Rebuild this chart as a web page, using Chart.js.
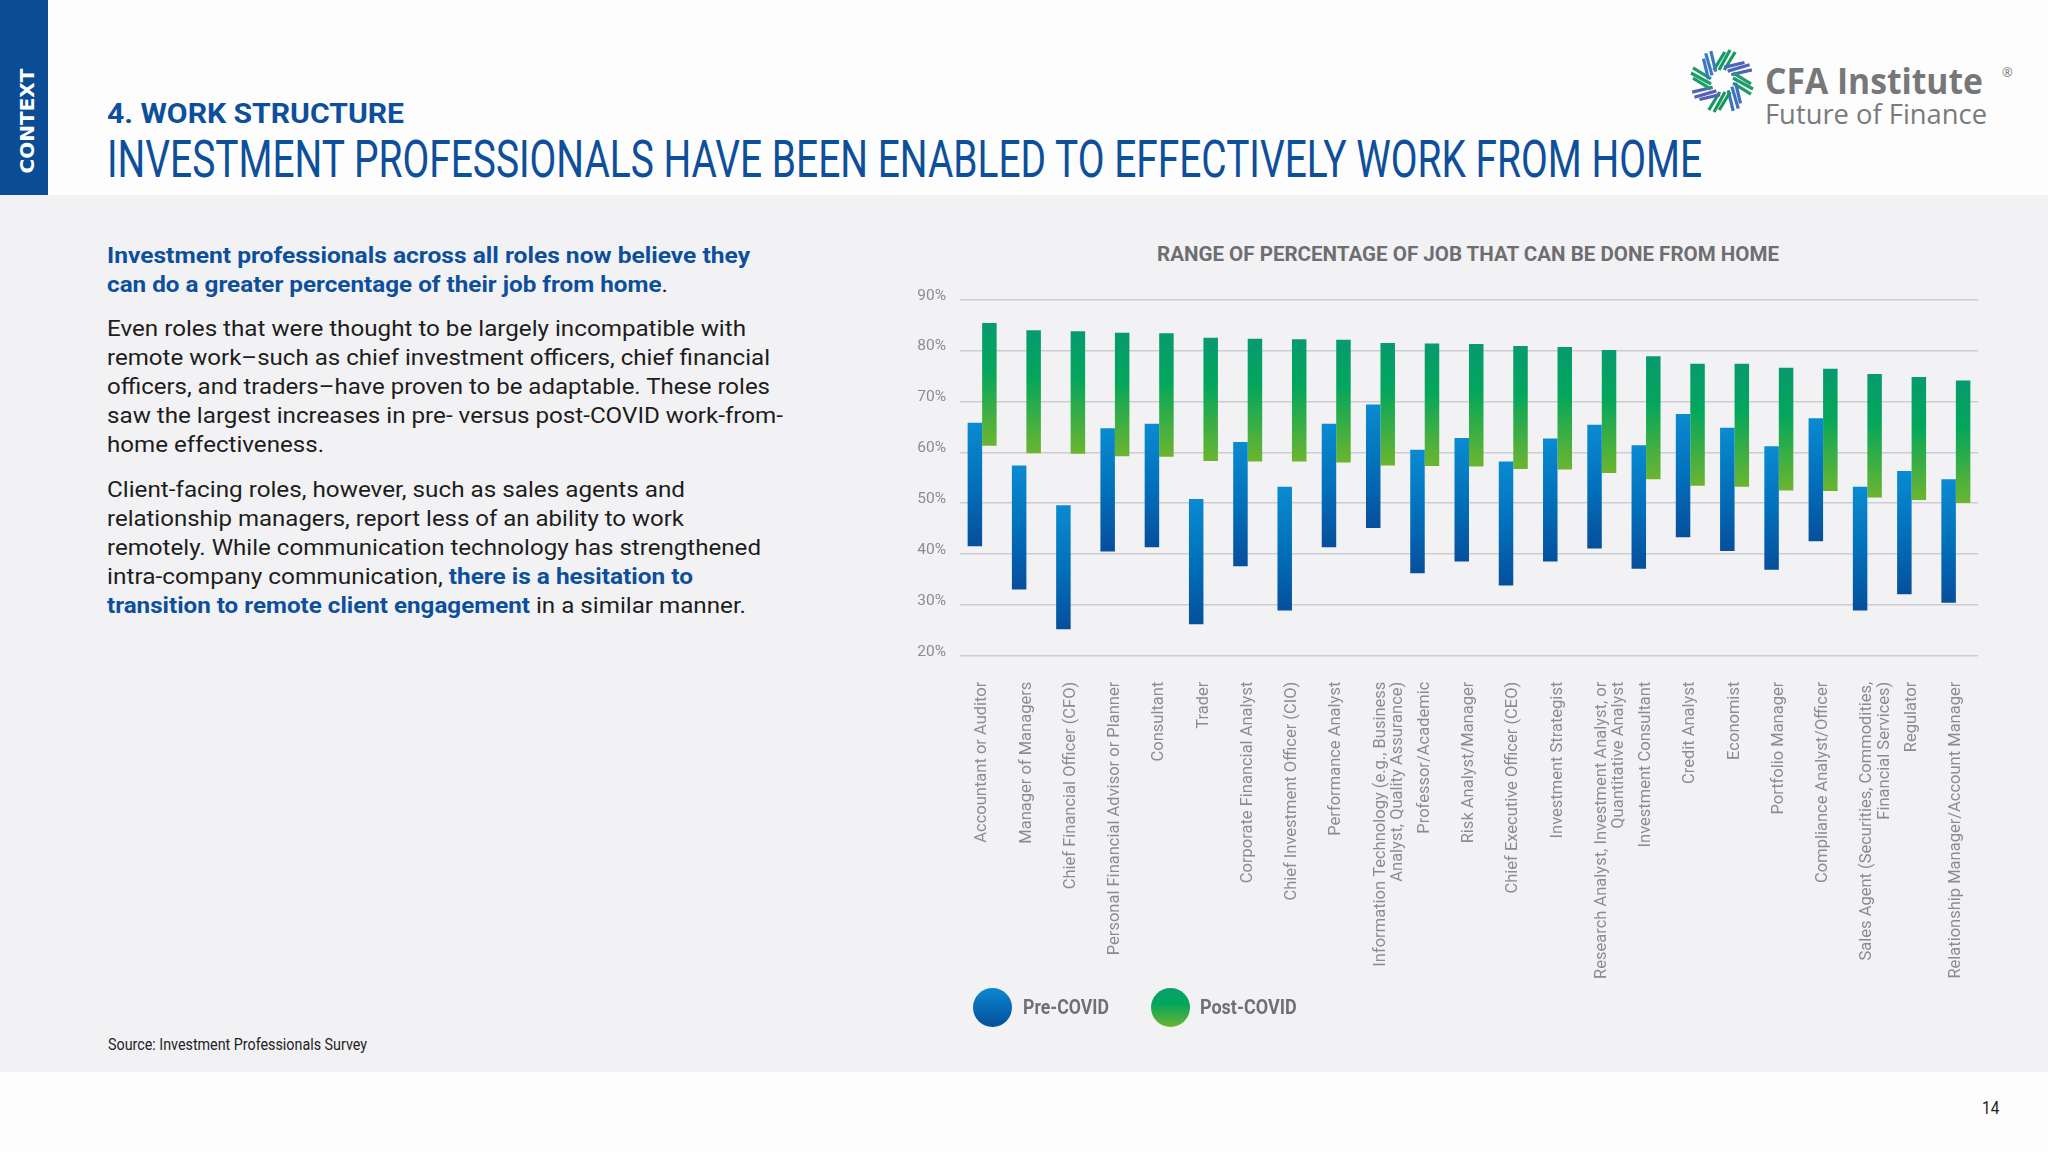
<!DOCTYPE html>
<html lang="en">
<head>
<meta charset="utf-8">
<title>Work structure – range of percentage of job that can be done from home</title>
<script src="https://cdn.jsdelivr.net/npm/chart.js@4.4.1/dist/chart.umd.min.js"></script>
<style>
  html, body { margin:0; padding:0; }
  body { width:2048px; height:1152px; position:relative; overflow:hidden; background:#fdfdfd; font-family: Roboto, "Noto Sans", sans-serif; }
  .abs { position:absolute; white-space:nowrap; line-height:1; transform-origin:0 0; }
  #panel { position:absolute; left:0; top:195px; width:2048px; height:877px; background:#f2f2f4; }
  #sidebar { position:absolute; left:0; top:0; width:48px; height:195px; background:#0b4c97; }
  #context { position:absolute; left:27px; top:120.5px; transform:translate(-50%,-50%) rotate(-90deg); color:#fff; font:700 20px "DejaVu Sans", sans-serif; line-height:1; white-space:nowrap; }
  .head { color:#0d4f9b; }
  .body { font-size:22.5px; color:#1d1d20; left:107px; }
  .body b { font-weight:700; color:#0d4f9b; }
  .logo { font-family:"Open Sans", sans-serif; color:#77777a; }
  .leg { font-size:21px; font-weight:700; color:#707074; }
  .dot { position:absolute; width:39px; height:39px; border-radius:50%; top:988.3px; }
  #chartBox { position:absolute; left:880px; top:280px; width:1110px; height:720px; }
</style>
</head>
<body>
<div id="panel"></div>
<div id="sidebar"></div>
<div id="context">CONTEXT</div>

<div class="abs head" style="left:107px;top:100.4px;font-size:28px;font-weight:700;" data-w="297">4. WORK STRUCTURE</div>
<div class="abs head" style="left:107px;top:133.5px;font-size:52px;font-weight:400;" data-w="1595">INVESTMENT PROFESSIONALS HAVE BEEN ENABLED TO EFFECTIVELY WORK FROM HOME</div>

<svg id="logoMark" width="72" height="72" viewBox="-36 -36 72 72" style="position:absolute;left:1686px;top:45px"></svg>
<div class="abs logo" style="left:1765px;top:62.5px;font-size:35px;font-weight:700;" data-w="218">CFA Institute</div>
<div class="abs logo" style="left:2002px;top:66px;font-size:13px;">®</div>
<div class="abs logo" style="left:1765px;top:100px;font-size:27px;font-weight:400;color:#7a7a7d;" data-w="222">Future of Finance</div>

<div class="abs body" style="top:244.4px" data-w="643"><b>Investment professionals across all roles now believe they</b></div>
<div class="abs body" style="top:273.0px" data-w="561"><b>can do a greater percentage of their job from home</b>.</div>

<div class="abs body" style="top:317.1px" data-w="639">Even roles that were thought to be largely incompatible with</div>
<div class="abs body" style="top:346.1px" data-w="663">remote work–such as chief investment officers, chief financial</div>
<div class="abs body" style="top:375.1px" data-w="663">officers, and traders–have proven to be adaptable. These roles</div>
<div class="abs body" style="top:404.1px" data-w="676">saw the largest increases in pre- versus post-COVID work-from-</div>
<div class="abs body" style="top:433.1px" data-w="217">home effectiveness.</div>

<div class="abs body" style="top:478.1px" data-w="578">Client-facing roles, however, such as sales agents and</div>
<div class="abs body" style="top:507.1px" data-w="577">relationship managers, report less of an ability to work</div>
<div class="abs body" style="top:536.1px" data-w="654">remotely. While communication technology has strengthened</div>
<div class="abs body" style="top:565.1px" data-w="586">intra-company communication, <b>there is a hesitation to</b></div>
<div class="abs body" style="top:594.1px" data-w="639"><b>transition to remote client engagement</b> in a similar manner.</div>

<div class="abs" style="left:1157px;top:244px;font-size:21px;font-weight:700;color:#6e6e72;" data-w="622">RANGE OF PERCENTAGE OF JOB THAT CAN BE DONE FROM HOME</div>

<div id="chartBox"><canvas id="chart" width="1110" height="720"></canvas></div>

<div class="dot" style="left:973.3px;background:linear-gradient(#0a88cf,#064f9c);"></div>
<div class="abs leg" style="left:1023.3px;top:997.3px;" data-w="86">Pre-COVID</div>
<div class="dot" style="left:1150.7px;background:linear-gradient(#06a06c 0%,#03a55c 40%,#6cb531 100%);"></div>
<div class="abs leg" style="left:1200px;top:997.3px;" data-w="96.7">Post-COVID</div>

<div class="abs" style="left:107.7px;top:1036.5px;font-size:16px;color:#222224;" data-w="259">Source: Investment Professionals Survey</div>
<div class="abs" style="left:1981.7px;top:1098.3px;font-size:19px;color:#222224;" data-w="17.3">14</div>

<script>
// ---- data ----
const roles = [
  "Accountant or Auditor",
  "Manager of Managers",
  "Chief Financial Officer (CFO)",
  "Personal Financial Advisor or Planner",
  "Consultant",
  "Trader",
  "Corporate Financial Analyst",
  "Chief Investment Officer (CIO)",
  "Performance Analyst",
  ["Information Technology (e.g., Business", "Analyst, Quality Assurance)"],
  "Professor/Academic",
  "Risk Analyst/Manager",
  "Chief Executive Officer (CEO)",
  "Investment Strategist",
  ["Research Analyst, Investment Analyst, or", "Quantitative Analyst"],
  "Investment Consultant",
  "Credit Analyst",
  "Economist",
  "Portfolio Manager",
  "Compliance Analyst/Officer",
  ["Sales Agent (Securities, Commodities,", "Financial Services)"],
  "Regulator",
  "Relationship Manager/Account Manager"
];
const preCovidLow  = [41.5, 33.0, 25.2, 40.5, 41.3, 26.2, 37.6, 28.9, 41.3, 45.1, 36.2, 38.5, 33.8, 38.5, 41.1, 37.1, 43.3, 40.6, 36.9, 42.5, 28.9, 32.1, 30.4];
const preCovidHigh = [65.8, 57.4, 49.6, 64.7, 65.6, 50.8, 62.0, 53.2, 65.6, 69.4, 60.5, 62.8, 58.2, 62.7, 65.4, 61.4, 67.5, 64.8, 61.2, 66.7, 53.2, 56.3, 54.7];
const postCovidLow  = [61.3, 59.8, 59.7, 59.2, 59.1, 58.3, 58.2, 58.2, 58.0, 57.4, 57.3, 57.2, 56.7, 56.6, 55.9, 54.7, 53.4, 53.2, 52.5, 52.4, 51.1, 50.6, 50.0];
const postCovidHigh = [85.4, 84.0, 83.8, 83.5, 83.4, 82.5, 82.3, 82.2, 82.1, 81.5, 81.4, 81.3, 80.9, 80.7, 80.1, 78.9, 77.4, 77.4, 76.6, 76.4, 75.4, 74.8, 74.1];
const yTickValues = [20, 30, 40, 50, 60, 70, 80, 90];
const yTickLabels = ["20%", "30%", "40%", "50%", "60%", "70%", "80%", "90%"];
const seriesNames = ["Pre-COVID", "Post-COVID"];

// ---- styles ----
const blueStops  = [[0, "#0a8bd1"], [0.5, "#0270bb"], [1, "#064f9c"]];
const greenStops = [[0, "#079a6e"], [0.38, "#02a65c"], [1, "#6cb52f"]];

function barGradient(stops) {
  return function (ctx) {
    const chart = ctx.chart;
    if (ctx.type !== "data" || !chart.chartArea || !chart.scales.y) return stops[0][1];
    const r = ctx.raw;
    const ys = chart.scales.y;
    const top = ys.getPixelForValue(Math.max(r[0], r[1]));
    const bot = ys.getPixelForValue(Math.min(r[0], r[1]));
    if (!isFinite(top) || !isFinite(bot) || top === bot) return stops[0][1];
    const g = chart.ctx.createLinearGradient(0, top, 0, bot);
    stops.forEach(s => g.addColorStop(s[0], s[1]));
    return g;
  };
}

function zeroPad(s) { s.paddingLeft = 0; s.paddingRight = 0; s.paddingTop = 0; s.paddingBottom = 0; }

Chart.defaults.font.family = "Roboto, 'Noto Sans', sans-serif";

new Chart(document.getElementById("chart"), {
  type: "bar",
  data: {
    labels: roles,
    datasets: [
      {
        label: seriesNames[0],
        data: preCovidLow.map((v, i) => [v, preCovidHigh[i]]),
        backgroundColor: barGradient(blueStops),
        borderWidth: 0,
        borderSkipped: false
      },
      {
        label: seriesNames[1],
        data: postCovidLow.map((v, i) => [v, postCovidHigh[i]]),
        backgroundColor: barGradient(greenStops),
        borderWidth: 0,
        borderSkipped: false
      }
    ]
  },
  options: {
    responsive: false,
    animation: false,
    devicePixelRatio: 1,
    categoryPercentage: 0.655,
    barPercentage: 1.0,
    layout: { padding: { top: 19.67, left: 0, right: 12, bottom: 0 } },
    plugins: {
      legend: { display: false },
      tooltip: { enabled: false },
      title: { display: false }
    },
    scales: {
      x: {
        grid: { display: false, drawTicks: false },
        border: { display: false },
        afterFit: (s) => { s.height = 344.3; zeroPad(s); },
        ticks: {
          autoSkip: false,
          maxRotation: 90,
          minRotation: 90,
          padding: 26,
          color: "#8c8c90",
          font: { size: 16.5, lineHeight: 1.05 }
        }
      },
      y: {
        min: 20,
        max: 90,
        afterFit: (s) => { s.width = 80; zeroPad(s); },
        afterBuildTicks: (s) => { s.ticks = yTickValues.map(v => ({ value: v })); },
        grid: { color: "#cdcdd1", lineWidth: 1.5, drawTicks: false },
        border: { display: false },
        ticks: {
          padding: 14,
          labelOffset: -4,
          color: "#8c8c90",
          font: { size: 15.5 },
          callback: (v) => yTickLabels[yTickValues.indexOf(v)]
        }
      }
    }
  }
});

// ---- logo mark ----
(function () {
  const svg = document.getElementById("logoMark");
  const ns = "http://www.w3.org/2000/svg";
  const cols = ["#159a62", "#4c65ba", "#1f9c6b", "#3f6fc0", "#17975c", "#5560b5", "#1b9f68", "#3b78c4"];
  for (let k = 0; k < 8; k++) {
    const g = document.createElementNS(ns, "g");
    g.setAttribute("transform", "rotate(" + (k * 45) + ")");
    for (let j = 0; j < 3; j++) {
      const o = (j - 1) * 5.2;
      const l = document.createElementNS(ns, "line");
      l.setAttribute("x1", o - 3);
      l.setAttribute("y1", -11);
      l.setAttribute("x2", o + 8);
      l.setAttribute("y2", -31 + Math.abs(j - 1) * 2);
      l.setAttribute("stroke", cols[k]);
      l.setAttribute("stroke-width", "3.2");
      g.appendChild(l);
    }
    svg.appendChild(g);
  }
})();

// ---- fit text lines to measured widths ----
function fitAll() {
  document.querySelectorAll("[data-w]").forEach(el => {
    el.style.transform = "none";
    const w = el.getBoundingClientRect().width;
    const t = parseFloat(el.dataset.w);
    if (w > 0) el.style.transform = "scaleX(" + (t / w) + ")";
  });
}
fitAll();
if (document.fonts && document.fonts.ready) document.fonts.ready.then(fitAll);
</script>
</body>
</html>
